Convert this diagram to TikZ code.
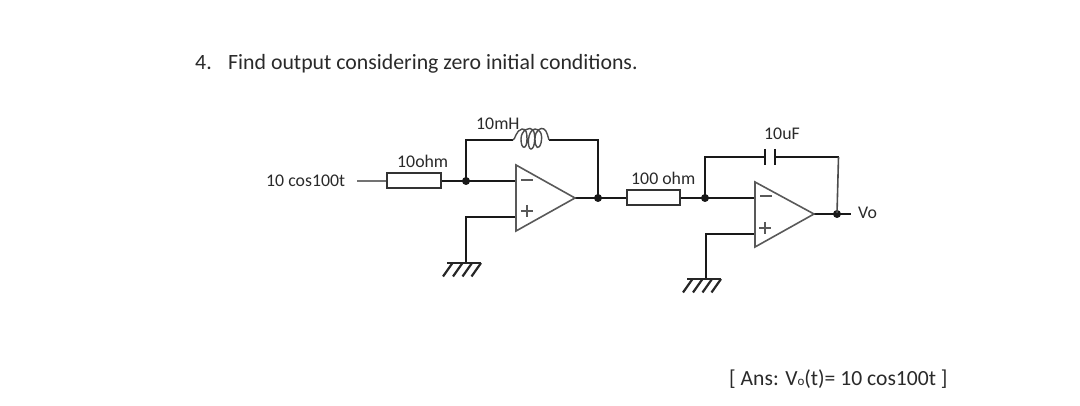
\documentclass[tikz,border=0pt]{standalone}
\usepackage{fontspec}
\setmainfont{Carlito}
\usetikzlibrary{calc}
\definecolor{txt}{HTML}{2A2A2A}
\tikzset{
  x=1pt,y=-1pt,
  wire/.style={line width=2.4pt,black!90},
  thin wire/.style={line width=1.2pt,black!55},
  part/.style={draw=black!80,line width=2pt,fill=white},
  amp/.style={draw=black!65,line width=1.6pt,fill=white},
  dot/.style={circle,fill=black!90,inner sep=0pt,minimum size=8pt},
  lbl/.style={inner sep=0pt,text=txt,font=\fontsize{17.8}{20}\selectfont,anchor=base west},
  big/.style={inner sep=0pt,text=txt,font=\fontsize{21.8}{26}\selectfont,anchor=base west},
  gnd/.style={line width=2.2pt,black!85},
}
\newcommand{\gndsym}[2]{%
  \draw[gnd] (#1-19,#2) -- (#1+15,#2);
  \foreach \k in {-13.5,-3.5,6,15} \draw[gnd] (#1+\k,#2) -- (#1+\k-9.5,#2+13.5);
}
\begin{document}
\begin{tikzpicture}
\useasboundingbox (0,0) rectangle (1080,406);
\fill[white] (0,0) rectangle (1080,406);
% texts
\node[big] (q) at (195,70) {4.};
\node[big] (qt) at (228,70) {Find output considering zero initial conditions.};
\node[big,font=\fontsize{21.6}{26}\selectfont] (ans) at (729,385) {[ Ans: V\raisebox{-0.5pt}{\fontsize{13}{14}\selectfont o}(t)= 10 cos100t ]};
\node[lbl] (src) at (266,187) {10 cos100t};
\node[lbl] (lr1) at (397,168) {10ohm};
\node[lbl] (ll) at (476,130) {10mH};
\node[lbl] (lr2) at (631,185) {100 ohm};
\node[lbl] (lc) at (764,140) {10uF};
\node[lbl] (lvo) at (858,219) {Vo};
% junctions
\coordinate (ins) at (357,181);
\node[dot] (j1) at (466,181) {};
\node[dot] (j2) at (598,198) {};
\node[dot] (j3) at (705,198) {};
\node[dot] (j4) at (837,214) {};
\coordinate (g1) at (466,263);
\coordinate (g2) at (706,279);
\coordinate (out) at (851,214);
% components
\node[part,minimum width=54pt,minimum height=15pt,inner sep=0pt] (r1) at (414,181) {};
\node[part,minimum width=53pt,minimum height=15pt,inner sep=0pt] (r2) at (653.5,198) {};
% op amps
\coordinate (a1t) at (516,165); \coordinate (a1b) at (516,231); \coordinate (a1o) at (575,198);
\coordinate (a2t) at (755,182); \coordinate (a2b) at (755,247); \coordinate (a2o) at (814,214);
% wires
\draw[thin wire] (ins) -- (r1.west);
\draw[wire] (r1.east) -- (j1.center) -- (516,181);
\draw[wire] (j1.center) |- (513,140);
\draw[wire] (549,140) -| (j2.center);
\draw[wire] (a1o) -- (j2.center) -- (r2.west);
\draw[wire] (r2.east) -- (j3.center) -- (755,198);
\draw[wire] (j3.center) |- (765,157);
\draw[wire] (775,157) -- (838.5,157);
\draw[line width=1.6pt,black!70] (838.5,157) -- (j4.center);
\draw[wire] (a2o) -- (j4.center) -- (out);
\draw[wire] (516,217) -- (466,217) -- (g1);
\draw[wire] (755,234) -- (706,234) -- (g2);
% inductor
\draw[line width=1.4pt,black!70] (513,140) .. controls (515,140) and (516,130) .. (522,129)
  .. controls (526,129) and (527,132) .. (527,139) .. controls (527,150) and (521,150) .. (521,139)
  .. controls (521,130) and (530,126) .. (533,130) .. controls (536,134) and (535,149) .. (531,149)
  .. controls (527,149) and (527,130) .. (535,129) .. controls (540,129) and (543,134) .. (541,143)
  .. controls (539,150) and (535,149) .. (535,139) .. controls (535,130) and (541,127) .. (544,129)
  .. controls (547,131) and (548,137) .. (549,140);
% capacitor
\draw[line width=2.4pt,black!90] (765,149) -- (765,165) (775,149) -- (775,165);
% op amp shapes
\draw[amp] (a1t) -- (a1o) -- (a1b) -- cycle;
\draw[amp] (a2t) -- (a2o) -- (a2b) -- cycle;
\draw[line width=1.1pt,black!65] (521,180) -- (533,180) (521,211) -- (533,211) (527,205) -- (527,217);
\draw[line width=1.1pt,black!65] (760,196) -- (772,196) (759,228) -- (771,228) (765,222) -- (765,234);
% grounds
\gndsym{466}{263}
\gndsym{706}{279}
\end{tikzpicture}
\end{document}
